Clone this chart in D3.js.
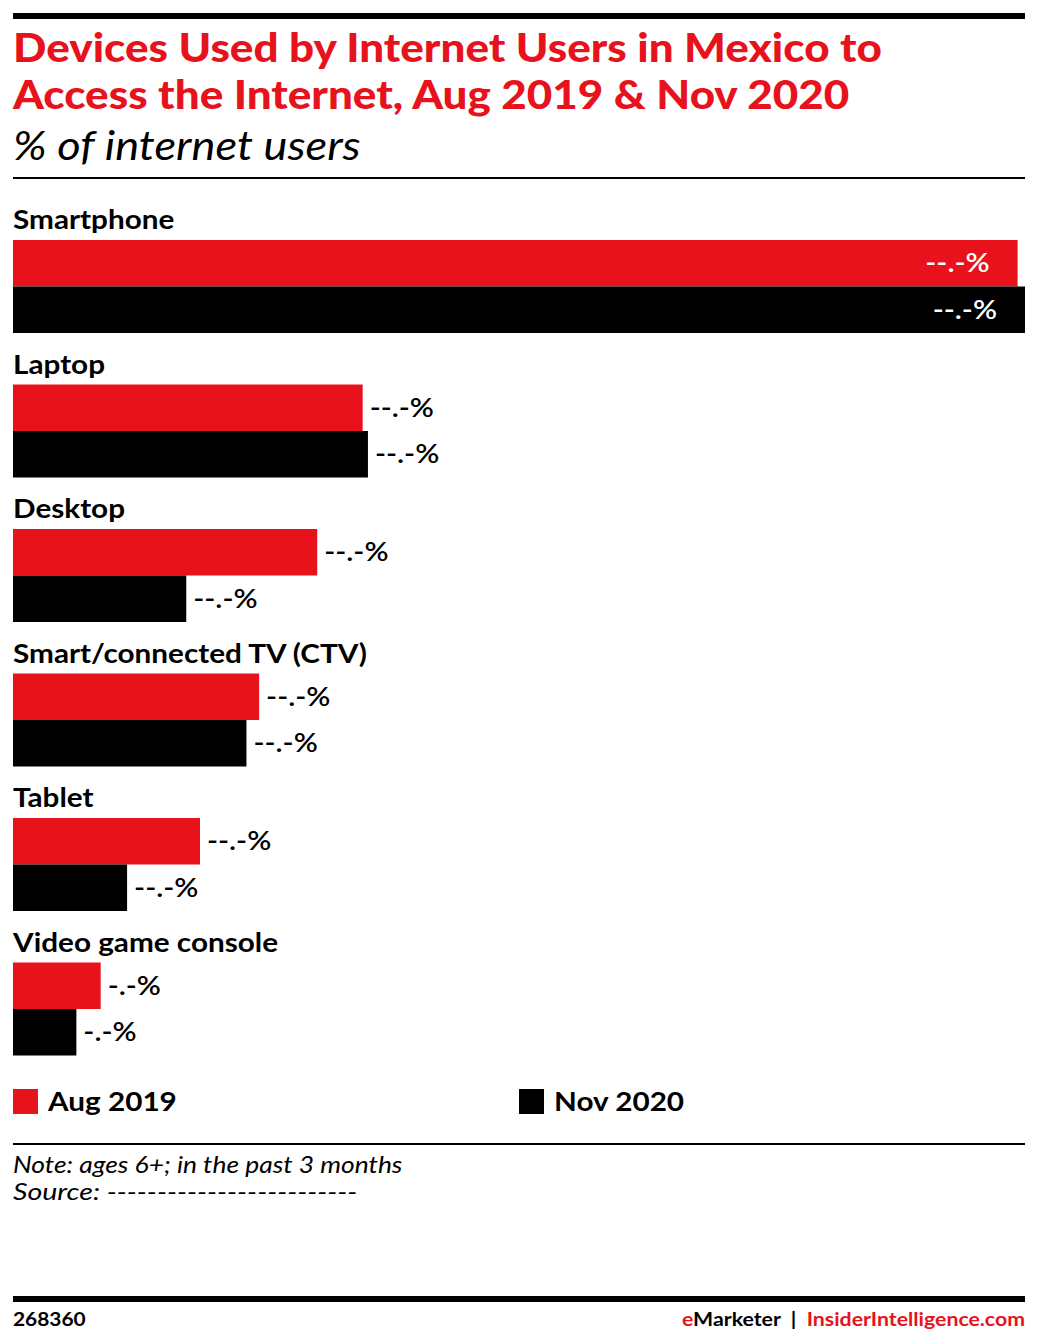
<!DOCTYPE html>
<html><head><meta charset="utf-8">
<script src="https://cdn.jsdelivr.net/npm/d3@7"></script>
<style>body{margin:0;background:#fff}svg{display:block}</style>
</head><body>
<script>
const categories = ["Smartphone","Laptop","Desktop","Smart/connected TV (CTV)","Tablet","Video game console"];
const seriesNames = ["Aug 2019","Nov 2020"];
const aug2019 = [95.1, 33.1, 28.8, 23.3, 17.7, 8.3];
const nov2020 = [95.8, 33.6, 16.4, 22.1, 10.8, 6.0];
const colors = ["#e8121c","#000000"];
const maskLabel = v => v >= 10 ? "--.-%" : "-.-%";

const W = 1038, H = 1344;
const FONT = "Lato, 'Open Sans', sans-serif";
const svg = d3.select("body").append("svg").attr("width", W).attr("height", H);

// widen text to the reference's wider typeface
function widen(sel, f){
  f = f || 1.1;
  sel.each(function(){
    const w = this.getComputedTextLength();
    d3.select(this).attr("textLength", w*f).attr("lengthAdjust","spacingAndGlyphs");
  });
  return sel;
}

svg.append("rect").attr("x",13).attr("y",13).attr("width",1012).attr("height",6).attr("fill","#000");
const t1 = svg.append("text").attr("x",13).attr("y",62).attr("font-family",FONT).attr("font-weight",900).attr("font-size",40).attr("fill","#e8121c").text("Devices Used by Internet Users in Mexico to");
const t2 = svg.append("text").attr("x",13).attr("y",109).attr("font-family",FONT).attr("font-weight",900).attr("font-size",40).attr("fill","#e8121c").text("Access the Internet, Aug 2019 & Nov 2020");
widen(t1); widen(t2);
widen(svg.append("text").attr("x",13).attr("y",160).attr("font-family",FONT).attr("font-style","italic").attr("font-size",40).attr("fill","#000").text("% of internet users"), 1.13);
svg.append("rect").attr("x",13).attr("y",177).attr("width",1012).attr("height",2).attr("fill","#000");

const x = d3.scaleLinear().domain([0, d3.max(nov2020.concat(aug2019))]).range([13, 1025]);
const yGroup = d3.scaleBand().domain(categories).range([240, 240 + 144.5*6]);
const ySub = d3.scaleBand().domain(seriesNames).range([0, 93]);

const data = categories.map((c,i)=>({cat:c, vals:[aug2019[i], nov2020[i]]}));
const g = svg.selectAll("g.grp").data(data).enter().append("g").attr("class","grp")
  .attr("transform", d=>`translate(0,${yGroup(d.cat)})`);
widen(g.append("text").attr("x",13).attr("y",-11).attr("font-family",FONT).attr("font-weight",700).attr("font-size",27).attr("fill","#000").text(d=>d.cat));
g.each(function(d){
  const gg = d3.select(this);
  d.vals.forEach((v,k)=>{
    const s = seriesNames[k];
    gg.append("rect").attr("x",x(0)).attr("y",ySub(s)).attr("width",x(v)-x(0)).attr("height",ySub.bandwidth()).attr("fill",colors[k]);
    const inside = v > 80;
    const lab = gg.append("text")
      .attr("x", inside ? x(v)-28 : x(v)+7)
      .attr("y", ySub(s)+ySub.bandwidth()/2+9)
      .attr("text-anchor", inside ? "end" : "start")
      .attr("font-family",FONT).attr("font-weight",600).attr("font-size",27)
      .attr("fill", inside ? "#fff" : "#000").text(maskLabel(v));
    widen(lab);
  });
});

const legX = [13, 519];
seriesNames.forEach((s,k)=>{
  svg.append("rect").attr("x",legX[k]).attr("y",1089).attr("width",25).attr("height",25).attr("fill",colors[k]);
  widen(svg.append("text").attr("x",legX[k]+35).attr("y",1111).attr("font-family",FONT).attr("font-weight",700).attr("font-size",27).attr("fill","#000").text(s));
});
svg.append("rect").attr("x",13).attr("y",1143).attr("width",1012).attr("height",2).attr("fill","#000");
widen(svg.append("text").attr("x",13).attr("y",1173).attr("font-family",FONT).attr("font-style","italic").attr("font-size",24).attr("fill","#000").text("Note: ages 6+; in the past 3 months"));
widen(svg.append("text").attr("x",13).attr("y",1200).attr("font-family",FONT).attr("font-style","italic").attr("font-size",24).attr("fill","#000").text("Source: -------------------------"), 1.19);

svg.append("rect").attr("x",13).attr("y",1296).attr("width",1012).attr("height",6).attr("fill","#000");
widen(svg.append("text").attr("x",13).attr("y",1326).attr("font-family",FONT).attr("font-weight",700).attr("font-size",19).attr("fill","#000").text("268360"));
const foot = svg.append("text").attr("x",1025).attr("y",1326).attr("text-anchor","end").attr("font-family",FONT).attr("font-weight",700).attr("font-size",19).style("white-space","pre");
foot.append("tspan").attr("fill","#e8121c").text("e");
foot.append("tspan").attr("fill","#000").text("Marketer  |  ");
foot.append("tspan").attr("fill","#e8121c").text("InsiderIntelligence.com");
widen(foot, 1.12);
</script>
</body></html>
